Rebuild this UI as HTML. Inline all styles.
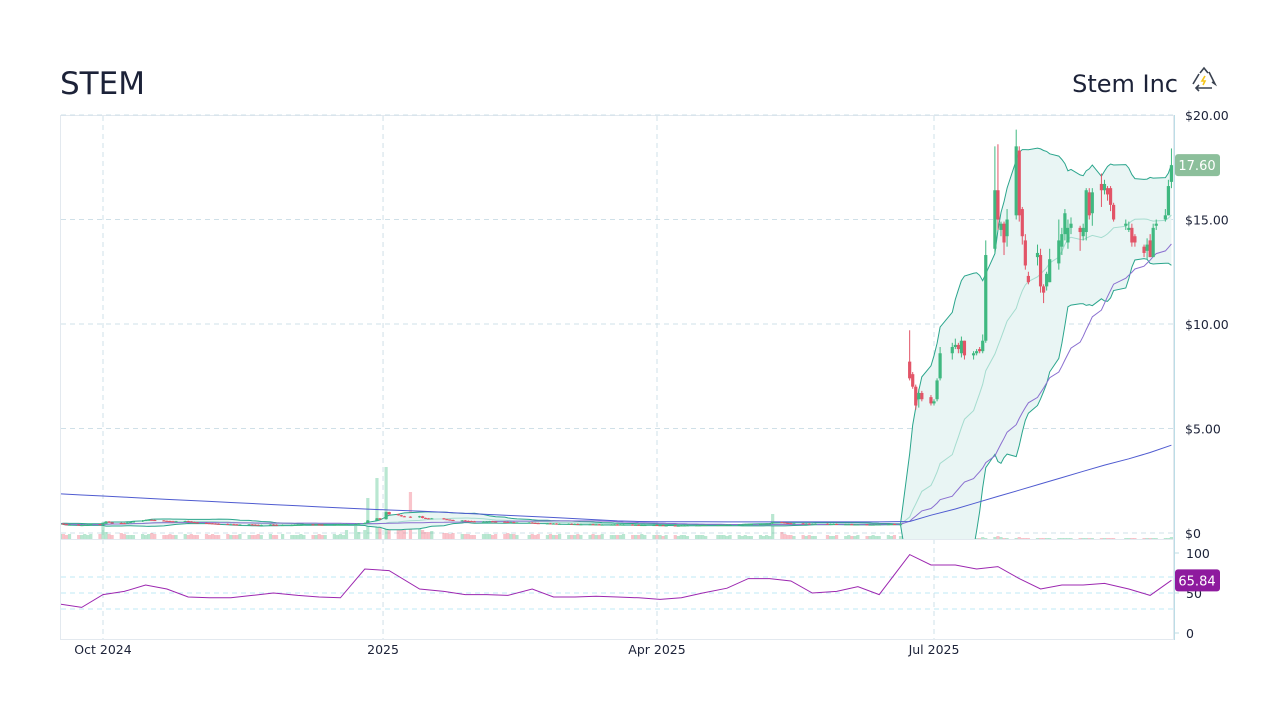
<!DOCTYPE html>
<html><head><meta charset="utf-8">
<style>
html,body{margin:0;padding:0;background:#fff;width:1280px;height:720px;overflow:hidden;font-family:"Liberation Sans","DejaVu Sans",sans-serif;}
svg text{font-family:"DejaVu Sans","Liberation Sans",sans-serif;}
</style></head>
<body>
<svg id="chart" width="1280" height="720" xmlns="http://www.w3.org/2000/svg">
  <text x="60" y="94" font-size="31" fill="#1c2238">STEM</text>
  <text x="1178" y="92" font-size="24" fill="#1c2238" text-anchor="end">Stem Inc</text>
  <g transform="translate(1204,81)" fill="none" stroke="#3a4250" stroke-width="1.6">
    <path d="M-4,-8 L0,-13 L4,-8"/>
    <path d="M5,-9 L11,3 L8,1"/>
    <path d="M8,7 L-8,7 M-5,4 L-8,7 L-5,10"/>
    <path d="M-11,3 L-5,-7"/>
    <path d="M1,-5 L-2,0 L1,0 L-1,4" stroke="#f5c518" stroke-width="1.6"/>
  </g>
  <defs>
    <clipPath id="clipP"><rect x="61" y="115" width="1113" height="424"/></clipPath>
    <clipPath id="clipR"><rect x="61" y="540" width="1113" height="99"/></clipPath>
  </defs>
  <g id="grid"></g>
  <g id="vol" clip-path="url(#clipP)"></g>
  <g id="bands" clip-path="url(#clipP)"></g>
  <g id="candles" clip-path="url(#clipP)"></g>
  <g id="rsi" clip-path="url(#clipR)"></g>
  <g id="axes"></g>
</svg>
<script>
// ---------- data ----------
const preCloses = [
 0.45,0.42,0.40,0.40,0.38,0.38,0.39,0.40,0.42,0.40,
 0.45,0.55,0.50,0.48,0.47,0.46,0.50,0.52,0.55,0.60,0.62,0.63,0.62,0.60,0.58,0.57,0.56,0.55,0.56,0.57,0.55,0.52,0.50,
 0.48,0.47,0.46,0.45,0.44,0.43,0.42,0.42,0.41,0.40,0.40,0.41,0.40,0.39,0.38,0.38,0.40,0.39,0.38,0.38,
 0.38,0.39,0.40,0.40,0.41,0.40,0.41,0.40,0.39,0.40,0.40,0.41,0.42,0.42,0.42,0.43,0.45,0.48,0.60,0.70,0.66,
 1.00,0.90,0.85,0.80,0.78,0.75,0.80,0.72,0.70,0.68,0.70,0.66,0.64,0.62,0.60,0.60,0.58,0.57,0.56,0.55,
 0.55,0.55,0.56,0.55,0.54,0.53,0.52,0.52,0.50,0.50,0.50,0.48,0.47,0.46,0.46,0.45,0.45,0.44,0.44,
 0.44,0.43,0.43,0.42,0.42,0.42,0.41,0.41,0.40,0.40,0.40,0.40,0.39,0.40,0.40,0.39,0.39,0.38,0.38,0.38,0.38,
 0.37,0.37,0.36,0.36,0.35,0.35,0.36,0.36,0.37,0.37,0.37,0.38,0.38,0.38,0.39,0.39,0.40,0.40,0.41,0.41,0.42,
 0.42,0.43,0.43,0.44,0.44,0.45,0.52,0.50,0.48,0.47,0.46,0.46,0.45,0.45,0.44,0.44,0.44,0.43,0.43,0.43,0.42,
 0.42,0.42,0.41,0.41,0.41,0.40,0.40,0.40,0.41,0.41,0.42,0.43,0.42,0.42];
const postOpens = [8.2,7.6,7.0,6.4,6.7,6.5,6.2,6.4,7.4,8.6,8.9,9.0,8.6,9.2,8.5,8.6,8.8,8.7,9.2,13.6,16.4,14.5,14.8,14.2,15.2,18.3,15.5,14.0,12.3,13.2,13.3,11.8,11.8,12.0,12.9,13.7,14.3,13.9,14.6,14.6,14.2,14.4,16.3,15.3,16.7,16.4,16.5,16.5,15.7,14.7,14.5,14.6,14.2,13.7,13.5,14.0,13.2,14.7,15.0,15.2,16.8];
const postCloses = [7.4,7.0,6.1,6.7,6.4,6.2,6.3,7.3,8.6,8.9,9.0,8.8,9.2,8.5,8.6,8.7,8.7,9.2,13.3,16.4,15.0,14.8,13.9,15.0,18.5,15.2,14.2,12.8,12.0,13.4,11.8,11.5,12.4,13.1,14.0,14.3,15.3,14.6,14.8,14.4,14.6,16.4,15.2,16.3,16.4,16.7,16.2,15.7,15.0,14.8,14.6,13.9,13.9,13.4,13.8,13.2,14.6,14.8,15.2,16.6,17.6];
const postHighs = [9.7,7.7,7.1,6.9,6.8,6.6,6.4,7.4,8.9,9.1,9.3,9.1,9.4,9.2,8.7,8.8,8.9,9.5,14.0,18.5,18.6,14.9,14.9,15.5,19.3,18.5,15.6,14.3,12.5,13.8,13.6,11.9,12.5,13.6,15.0,14.6,15.5,15.0,15.1,14.7,14.8,16.5,16.5,16.5,17.2,16.9,16.6,16.6,15.8,15.0,14.9,14.8,14.3,13.8,14.1,14.3,14.8,15.0,15.5,16.9,18.4];
const postLows = [7.3,6.9,5.9,6.0,6.3,6.1,6.1,6.3,7.3,8.3,8.8,8.6,8.4,8.3,8.3,8.5,8.6,8.6,9.1,13.4,14.5,14.2,13.3,13.7,15.0,14.9,13.8,12.6,11.9,12.8,11.5,11.0,11.6,12.0,12.6,13.3,14.0,13.6,14.3,13.5,14.0,14.0,15.0,14.7,15.6,16.2,15.9,15.4,14.9,14.5,14.4,13.7,13.7,13.2,13.1,13.2,13.3,14.5,14.9,15.2,16.5];
const volumes = [
 6,6,5,6,5,5,6,5,6,6,
 18,8,6,5,7,6,5,5,5,6,5,6,7,6,5,5,6,5,5,6,5,6,5,
 5,6,5,6,5,5,6,5,5,5,6,5,5,5,6,5,6,5,5,6,
 5,5,5,6,5,5,5,6,5,5,6,5,6,5,10,14,8,10,42,62,20,
 73,28,15,12,10,48,14,10,8,8,9,7,7,6,7,6,6,6,5,5,
 6,6,6,5,6,6,7,6,6,5,5,6,5,6,5,6,5,5,6,
 5,5,5,6,5,5,6,5,5,6,5,5,5,5,6,5,5,5,6,5,5,
 5,5,4,5,5,4,5,5,4,5,5,5,4,5,5,5,4,5,5,4,5,
 4,4,5,4,5,4,26,8,6,5,5,4,5,4,5,4,4,5,4,4,5,
 4,5,4,4,5,4,4,5,4,4,5,4,5,4,
 4,4,3,3,3,2,2,3,2,2,3,2,2,2,3,2,2,3,2,3,4,3,2,2,2,3,2,2,2,2,2,2,2,2,2,2,2,2,2,2,2,2,2,2,2,2,2,2,2,2,2,2,2,2,2,2,2,2,2,2,3];
// weekly samples (every 5 trading days)
const sma200Weekly = [1.87,1.82,1.77,1.72,1.66,1.61,1.56,1.51,1.46,1.41,1.36,1.30,1.25,1.20,1.15,1.10,1.05,0.99,0.94,0.89,0.84,0.79,0.74,0.69,0.63,0.58,0.55,0.54,0.54,0.54,0.53,0.53,0.53,0.53,0.53,0.53,0.53,0.53,0.55,0.85,1.15,1.45,1.75,2.05,2.35,2.65,2.95,3.25,3.55,3.85,4.2];
const rsiWeekly = [36,32,48,52,60,55,45,44,44,47,50,47,45,44,80,78,55,52,48,48,47,55,45,45,46,45,44,42,44,50,56,68,68,65,50,52,58,48,98,85,85,80,83,68,55,60,60,62,55,47,65.84];
const holidays = ["2024-11-28","2024-12-25","2025-01-01","2025-01-09","2025-01-20","2025-02-17","2025-04-18","2025-05-26","2025-06-19","2025-07-04","2025-09-01"];
const priceTicks = [0,5,10,15,20];
const priceTickLabels = ["$0","$5.00","$10.00","$15.00","$20.00"];
const rsiTicks = [0,50,100];
const rsiGrid = [30,50,70];
const monthTicks = ["2024-10-01","2025-01-01","2025-04-01","2025-07-01"];
const monthLabels = ["Oct 2024","2025","Apr 2025","Jul 2025"];

// ---------- build series ----------
const closes = preCloses.concat(postCloses);
const N = closes.length;
const dates = [];
{ let d = new Date("2024-09-17T00:00:00Z");
  while (dates.length < N) {
    const wd = d.getUTCDay(); const s = d.toISOString().slice(0,10);
    if (wd !== 0 && wd !== 6 && holidays.indexOf(s) < 0) dates.push(new Date(d));
    d = new Date(d.getTime() + 86400000);
  } }
const opens = [], highs = [], lows = [];
for (let i = 0; i < preCloses.length; i++) {
  const o = i === 0 ? preCloses[0] : preCloses[i-1];
  opens.push(o); highs.push(Math.max(o, preCloses[i]) + 0.02); lows.push(Math.min(o, preCloses[i]) - 0.02);
}
for (let i = 0; i < postCloses.length; i++) { opens.push(postOpens[i]); highs.push(postHighs[i]); lows.push(postLows[i]); }

// ---------- scales ----------
const T0 = Date.UTC(2024,9,1), DAY = 86400000;
const xOf = d => 103 + (d.getTime() - T0) / DAY * 3.044;
const yP = p => 533 - p * 20.9;
const yR = r => 633 - r * 0.8;
const vMax = 73;
const yV = v => 540 - v / vMax * 73;

const NS = "http://www.w3.org/2000/svg";
function mk(tag, attrs, parent) { const e = document.createElementNS(NS, tag); for (const k in attrs) e.setAttribute(k, attrs[k]); parent.appendChild(e); return e; }
const G = id => document.getElementById(id);

// ---------- grid & axes ----------
const grid = G("grid"), axes = G("axes");
let e = mk("rect", {x:60.5,y:115.5,width:1113,height:524,fill:"none",stroke:"#e3e9ef"}, grid);
 
priceTicks.forEach((p, i) => {
  const y = yP(p);
  let l = mk("line", {x1:61,x2:1174,y1:y,y2:y,stroke:"#cfe0e8","stroke-dasharray":"5,4","stroke-width":1}, grid);
   
  let t = mk("text", {x:1185,y:y+5,"font-size":12.5,fill:"#1c2238"}, axes); t.textContent = priceTickLabels[i];
   
});
rsiGrid.forEach(r => {
  let l = mk("line", {x1:61,x2:1174,y1:yR(r),y2:yR(r),stroke:"#bfe8f5","stroke-dasharray":"5,4"}, grid);
   
});
rsiTicks.forEach(r => {
  let t = mk("text", {x:1186,y:yR(r)+5,"font-size":12.5,fill:"#1c2238"}, axes); t.textContent = String(r);
   
  let k = mk("line", {x1:1174,x2:1179,y1:yR(r),y2:yR(r),stroke:"#bcdde6"}, axes);
   
});
monthTicks.forEach((m, i) => {
  const x = xOf(new Date(m + "T00:00:00Z"));
  let l = mk("line", {x1:x,x2:x,y1:116,y2:639,stroke:"#cfe0e8","stroke-dasharray":"5,4"}, grid);
   
  let t = mk("text", {x:x,y:654,"font-size":12.5,fill:"#1c2238","text-anchor":"middle"}, axes); t.textContent = monthLabels[i];
   
});
e = mk("line", {x1:61,x2:1174,y1:539.5,y2:539.5,stroke:"#e3e9ef"}, grid);
 
e = mk("line", {x1:1174.5,x2:1174.5,y1:115,y2:640,stroke:"#bcdde6"}, axes);
 

// ---------- volume ----------
const vol = G("vol");
for (let i = 0; i < N; i++) {
  const x = xOf(dates[i]); const up = closes[i] >= opens[i];
  const r = mk("rect", {x:x-1.6,y:yV(volumes[i]),width:3.2,height:540-yV(volumes[i]),fill:up?"#4fc28c":"#ef6b7d","fill-opacity":0.4}, vol);
   
}

// ---------- indicators ----------
const bands = G("bands");
const up = [], lo = [], mid = [], sma50 = [];
for (let i = 0; i < N; i++) {
  const s = Math.max(0, i - 19); const w = closes.slice(s, i + 1);
  const m = w.reduce((a,b)=>a+b,0) / w.length;
  const sd = Math.sqrt(w.reduce((a,b)=>a+(b-m)*(b-m),0) / w.length);
  mid.push(m); up.push(m + 2*sd); lo.push(m - 2*sd);
  const s5 = Math.max(0, i - 49); const w5 = closes.slice(s5, i + 1);
  sma50.push(w5.reduce((a,b)=>a+b,0) / w5.length);
}
const pts = (arr, yf) => arr.map((v,i) => xOf(dates[i]).toFixed(1) + "," + yf(v).toFixed(1));
e = mk("polygon", {points: pts(up,yP).concat(pts(lo,yP).reverse()).join(" "), fill:"#e9f5f4"}, bands);
 
e = mk("polyline", {points: pts(mid,yP).join(" "), fill:"none", stroke:"#a5dccf","stroke-width":1}, bands);
 
e = mk("polyline", {points: pts(up,yP).join(" "), fill:"none", stroke:"#2aa58c","stroke-width":1}, bands);
 
e = mk("polyline", {points: pts(lo,yP).join(" "), fill:"none", stroke:"#2aa58c","stroke-width":1}, bands);
 
e = mk("polyline", {points: pts(sma50,yP).join(" "), fill:"none", stroke:"#8a6fd0","stroke-width":1}, bands);
 
const smaPts = sma200Weekly.map((v,k) => { const i = Math.min(N-1, k*5); return xOf(dates[i]).toFixed(1) + "," + yP(v).toFixed(1); });
e = mk("polyline", {points: smaPts.join(" "), fill:"none", stroke:"#4f5bd0","stroke-width":1}, bands);
 

// ---------- candles ----------
const cg = G("candles");
for (let i = 0; i < N; i++) {
  const x = xOf(dates[i]); const upc = closes[i] >= opens[i]; const col = upc ? "#3fb880" : "#e25467";
  const w = mk("line", {x1:x,x2:x,y1:yP(highs[i]),y2:yP(lows[i]),stroke:col,"stroke-width":1}, cg);
   
  const top = yP(Math.max(opens[i], closes[i])); const h = Math.max(1, Math.abs(yP(opens[i]) - yP(closes[i])));
  const b = mk("rect", {x:x-1.6,y:top,width:3.2,height:h,fill:col}, cg);
   
}

// ---------- RSI ----------
const rg = G("rsi");
const rsiPts = rsiWeekly.map((v,k) => { const i = Math.min(N-1, k*5); return xOf(dates[i]).toFixed(1) + "," + yR(v).toFixed(1); });
e = mk("polyline", {points: rsiPts.join(" "), fill:"none", stroke:"#9c27b0","stroke-width":1}, rg);
 

// ---------- badges ----------
const lastP = closes[N-1], lastR = rsiWeekly[rsiWeekly.length-1];
e = mk("rect", {x:1175,y:yP(lastP)-11,width:45,height:22,rx:3,fill:"#8cbf9b"}, axes);
 
e = mk("text", {x:1197,y:yP(lastP)+5,"font-size":13,fill:"#fff","text-anchor":"middle"}, axes); e.textContent = lastP.toFixed(2);
 
e = mk("rect", {x:1175,y:yR(lastR)-11,width:45,height:22,rx:3,fill:"#8e1a9e"}, axes);
 
e = mk("text", {x:1197,y:yR(lastR)+5,"font-size":13,fill:"#fff","text-anchor":"middle"}, axes); e.textContent = lastR.toFixed(2);
 
</script>
</body></html>
